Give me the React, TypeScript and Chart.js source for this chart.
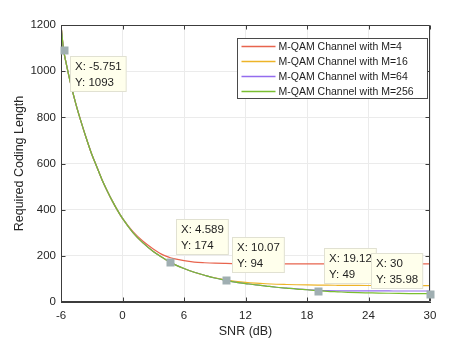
import React, { useEffect, useRef } from "react";
import { Chart, registerables } from "chart.js";
Chart.register(...registerables);

const FONT = '"Liberation Sans", Arial, Helvetica, sans-serif';

const snr = [-6, -5.751, -5.5, -5, -4.5, -4, -3.5, -3, -2.5, -2, -1.5, -1, -0.5, 0, 1, 2, 3, 4, 4.589, 5, 6, 7, 8, 9, 10.07, 11, 12, 13, 14, 15, 16, 17, 18, 19.12, 20, 21, 22, 23, 24, 25, 26, 27, 28, 29, 30];

const lenM4 = [1200, 1093, 1035, 935, 850, 775, 705, 640, 585, 530, 482, 438, 398, 362, 306, 263, 230, 203, 193, 188, 179, 173, 170, 168, 167, 166.5, 166, 165.8, 165.6, 165.5, 165.4, 165.3, 165.3, 165.2, 165.2, 165.1, 165.1, 165, 165, 165, 165, 165, 165, 165, 165];
const lenM16 = [1200, 1093, 1035, 935, 850, 775, 705, 640, 585, 530, 482, 438, 398, 362, 302, 256, 219, 190, 174, 164, 145, 129, 116, 105, 96, 90, 85, 81.5, 79, 77, 75.8, 74.8, 74, 73.3, 72.8, 72.4, 72, 71.7, 71.5, 71.3, 71.1, 71, 70.9, 70.8, 70.7];
const lenM64 = [1200, 1093, 1035, 935, 850, 775, 705, 640, 585, 530, 482, 438, 398, 362, 302, 256, 219, 190, 174, 164, 145, 129, 116, 104, 94, 86, 80, 74, 69, 64, 60, 56.5, 53.5, 50.5, 49.2, 48.6, 48.3, 48.1, 48, 47.9, 47.8, 47.7, 47.7, 47.6, 47.6];
const lenM256 = [1200, 1093, 1035, 935, 850, 775, 705, 640, 585, 530, 482, 438, 398, 362, 302, 256, 219, 190, 174, 164, 145, 129, 116, 104, 94, 86, 80, 74, 69, 64, 60, 56, 53, 49, 46, 44, 42, 40.5, 39.5, 38.5, 37.8, 37.2, 36.7, 36.3, 35.98];

const seriesNames = ["M-QAM Channel with M=4", "M-QAM Channel with M=16", "M-QAM Channel with M=64", "M-QAM Channel with M=256"];
const seriesValues = [lenM4, lenM16, lenM64, lenM256];
const seriesColors = ["rgb(232,100,78)", "rgb(237,180,40)", "rgb(148,108,238)", "rgb(122,190,48)"];

const xTicks = [-6, 0, 6, 12, 18, 24, 30];
const yTicks = [0, 200, 400, 600, 800, 1000, 1200];

const tipX = [-5.751, 4.589, 10.07, 19.12, 30];
const tipY = [1093, 174, 94, 49, 35.98];
const tipPlacement = ["below-right", "above-right", "above-right", "above-right", "above-left"];

const overlayPlugin = {
  id: "overlay",
  afterDatasetsDraw(chart: any) {
    const { ctx, chartArea: a, scales } = chart;
    const x = scales.x, y = scales.y;
    const L = Math.round(a.left) + 0.5, R = Math.round(a.right) - 0.5;
    const T = Math.round(a.top) + 0.5, B = Math.round(a.bottom) - 0.5;
    ctx.save();
    ctx.strokeStyle = "#3c3c3c";
    ctx.lineWidth = 1;
    ctx.beginPath();
    ctx.moveTo(L, T); ctx.lineTo(R, T); ctx.lineTo(R, B); ctx.lineTo(L, B); ctx.closePath();
    for (const v of xTicks) {
      const px = Math.round(x.getPixelForValue(v)) + 0.5;
      ctx.moveTo(px, B); ctx.lineTo(px, B - 4);
      ctx.moveTo(px, T); ctx.lineTo(px, T + 4);
    }
    for (const v of yTicks) {
      const py = Math.round(y.getPixelForValue(v)) + 0.5;
      ctx.moveTo(L, py); ctx.lineTo(L + 4, py);
      ctx.moveTo(R, py); ctx.lineTo(R - 4, py);
    }
    ctx.stroke();

    // data tips
    ctx.font = `11.5px ${FONT}`;
    ctx.textBaseline = "middle";
    ctx.textAlign = "left";
    for (let i = 0; i < tipX.length; i++) {
      const px = x.getPixelForValue(tipX[i]);
      const py = y.getPixelForValue(tipY[i]);
      const l1 = "X: " + String(tipX[i]);
      const l2 = "Y: " + String(tipY[i]);
      const w = Math.max(ctx.measureText(l1).width, ctx.measureText(l2).width) + 9;
      const h = 35;
      let bx = px + 6, by = py + 6;
      if (tipPlacement[i] === "above-right") { bx = px + 6; by = py - 8 - h; }
      if (tipPlacement[i] === "above-left") { bx = px - 8 - w; by = py - 6 - h; }
      bx = Math.round(bx) + 0.5; by = Math.round(by) + 0.5;
      ctx.fillStyle = "rgb(255,255,236)";
      ctx.strokeStyle = "rgb(225,225,210)";
      ctx.fillRect(bx, by, w, h);
      ctx.strokeRect(bx, by, w, h);
      ctx.fillStyle = "#1e1e1e";
      ctx.fillText(l1, bx + 4.5, by + 10.5);
      ctx.fillText(l2, bx + 4.5, by + 26);
      ctx.fillStyle = "rgb(160,175,178)";
      ctx.fillRect(Math.round(px) - 3.5, Math.round(py) - 3.5, 8, 8);
    }

    // legend
    const lw = 190, lh = 60;
    const lx = Math.round(a.right) - 3 - lw + 0.5, ly = Math.round(a.top) + 13 + 0.5;
    ctx.fillStyle = "#ffffff";
    ctx.fillRect(lx, ly, lw, lh);
    ctx.strokeStyle = "#4a4a4a";
    ctx.lineWidth = 1;
    ctx.strokeRect(lx, ly, lw, lh);
    ctx.font = `10.5px ${FONT}`;
    ctx.fillStyle = "#1e1e1e";
    for (let i = 0; i < seriesNames.length; i++) {
      const ry = ly + 8 + i * 15;
      ctx.strokeStyle = seriesColors[i];
      ctx.lineWidth = 1.5;
      ctx.beginPath();
      ctx.moveTo(lx + 4, ry); ctx.lineTo(lx + 38, ry);
      ctx.stroke();
      ctx.fillText(seriesNames[i], lx + 41, ry + 0.5);
    }
    ctx.restore();
  },
};

export default function App() {
  const ref = useRef<HTMLCanvasElement>(null);
  useEffect(() => {
    const canvas = ref.current!;
    const chart = new Chart(canvas, {
      type: "line",
      data: {
        datasets: seriesValues.map((vals, i) => ({
          label: seriesNames[i],
          data: snr.map((s, j) => ({ x: s, y: vals[j] })),
          borderColor: seriesColors[i],
          backgroundColor: seriesColors[i],
          borderWidth: 1.2,
          pointRadius: 0,
          fill: false,
          cubicInterpolationMode: "monotone" as const,
          order: seriesNames.length - i,
        })),
      },
      options: {
        animation: false,
        responsive: false,
        devicePixelRatio: 1,
        layout: { padding: { left: 0, top: 25, right: 44, bottom: 0 } },
        plugins: { legend: { display: false }, tooltip: { enabled: false } },
        scales: {
          x: {
            type: "linear",
            min: -6,
            max: 30,
            afterBuildTicks: (s: any) => { s.ticks = xTicks.map((v) => ({ value: v })); },
            afterFit: (s: any) => { s.height = 37; },
            grid: { color: "#ebebeb", drawTicks: false },
            border: { display: true, color: "#3c3c3c" },
            ticks: { padding: 7, color: "#262626", font: { family: FONT, size: 11.5 }, maxRotation: 0, callback: (v: any) => String(v) },
            title: { display: true, text: "SNR (dB)", color: "#262626", font: { family: FONT, size: 12.5 }, padding: { top: 0, bottom: 0 } },
          },
          y: {
            type: "linear",
            min: 0,
            max: 1200,
            afterBuildTicks: (s: any) => { s.ticks = yTicks.map((v) => ({ value: v })); },
            afterFit: (s: any) => { s.width = 61; },
            grid: { color: "#ebebeb", drawTicks: false },
            border: { display: true, color: "#3c3c3c" },
            ticks: { padding: 5, color: "#262626", font: { family: FONT, size: 11.5 }, callback: (v: any) => String(v) },
            title: { display: true, text: "Required Coding Length", color: "#262626", font: { family: FONT, size: 12.5 }, padding: { top: 12, bottom: 0 } },
          },
        },
      },
      plugins: [overlayPlugin],
    });
    return () => chart.destroy();
  }, []);
  return (
    <div style={{ position: "absolute", left: 0, top: 0, width: 474, height: 339, background: "#fff" }}>
      <canvas ref={ref} width={474} height={339} />
    </div>
  );
}
